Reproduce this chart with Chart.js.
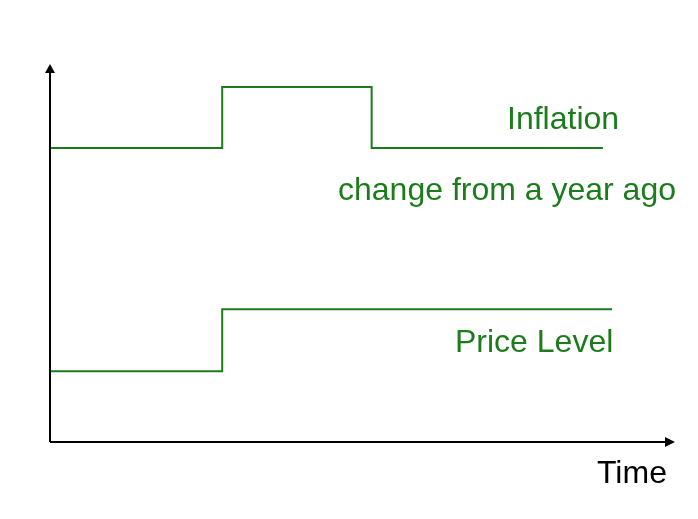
<!DOCTYPE html>
<html lang="en">
<head>
    <meta charset="UTF-8">
    <title>Inflation and Price Level</title>
    <script src="https://cdn.jsdelivr.net/npm/chart.js"></script>
    <style>
        body { margin: 0; background: #fff; }
        canvas { display: block; }
    </style>
</head>
<body>
    <canvas id="myChart" width="698" height="519"></canvas>
    <script>
        // step lines (time on x, level on y)
        const inflationX = [0, 28, 28, 52.3, 52.3, 89.9];
        const inflationY = [79.7, 79.7, 96.2, 96.2, 79.7, 79.7];
        const priceX = [0, 28, 28, 91.4];
        const priceY = [19.2, 19.2, 36.0, 36.0];

        const labels = ['Inflation', 'change from a year ago', 'Price Level'];
        const axisLabel = 'Time';

        const green = '#1c7c1c';

        function toPoints(xs, ys) {
            return xs.map((x, i) => ({x: x, y: ys[i]}));
        }

        // axes with arrow heads plus the text labels
        const sketchPlugin = {
            id: 'sketch',
            afterDraw(chart) {
                const ctx = chart.ctx;
                const a = chart.chartArea;
                ctx.save();
                ctx.strokeStyle = '#000';
                ctx.fillStyle = '#000';
                ctx.lineWidth = 2;
                ctx.beginPath();
                ctx.moveTo(a.left, a.bottom);
                ctx.lineTo(a.left, a.top);
                ctx.moveTo(a.left, a.bottom);
                ctx.lineTo(a.right, a.bottom);
                ctx.stroke();

                // up arrow
                ctx.beginPath();
                ctx.moveTo(a.left, a.top - 9);
                ctx.lineTo(a.left - 5, a.top);
                ctx.lineTo(a.left + 5, a.top);
                ctx.closePath();
                ctx.fill();
                // right arrow
                ctx.beginPath();
                ctx.moveTo(a.right + 10, a.bottom);
                ctx.lineTo(a.right, a.bottom - 5);
                ctx.lineTo(a.right, a.bottom + 5);
                ctx.closePath();
                ctx.fill();

                ctx.font = '32px "Liberation Sans", Arial, sans-serif';
                ctx.textAlign = 'left';
                ctx.textBaseline = 'alphabetic';
                ctx.fillStyle = green;
                ctx.fillText(labels[0], 507, 129);
                ctx.fillText(labels[1], 338, 200);
                ctx.fillText(labels[2], 455, 352);
                ctx.fillStyle = '#000';
                ctx.fillText(axisLabel, 597, 483);
                ctx.restore();
            }
        };

        const ctx = document.getElementById('myChart').getContext('2d');
        const chart = new Chart(ctx, {
            type: 'line',
            data: {
                datasets: [{
                    label: 'Inflation',
                    data: toPoints(inflationX, inflationY),
                    borderColor: green,
                    borderWidth: 2,
                    pointRadius: 0,
                    tension: 0
                }, {
                    label: 'Price Level',
                    data: toPoints(priceX, priceY),
                    borderColor: green,
                    borderWidth: 2,
                    pointRadius: 0,
                    tension: 0
                }]
            },
            options: {
                responsive: false,
                animation: false,
                devicePixelRatio: 1,
                layout: {
                    padding: {left: 50, top: 73, right: 33, bottom: 77}
                },
                scales: {
                    x: {type: 'linear', min: 0, max: 100, display: false},
                    y: {type: 'linear', min: 0, max: 100, display: false}
                },
                plugins: {
                    legend: {display: false},
                    tooltip: {enabled: false}
                }
            },
            plugins: [sketchPlugin]
        });
    </script>
</body>
</html>
